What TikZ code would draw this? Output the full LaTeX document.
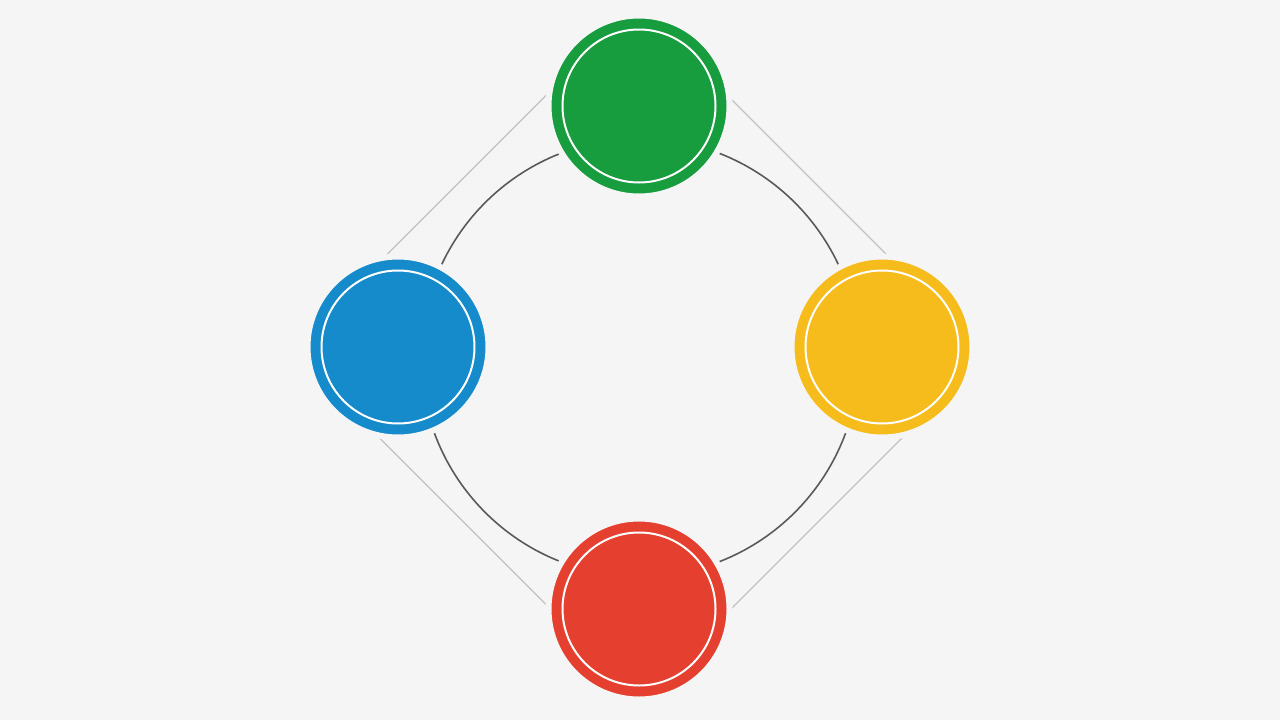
\documentclass[tikz,border=0pt]{standalone}
\usetikzlibrary{calc}
\definecolor{bgc}{HTML}{F5F5F5}
\definecolor{cgreen}{HTML}{179C3E}
\definecolor{cblue}{HTML}{168BCC}
\definecolor{cyellow}{HTML}{F6BC1C}
\definecolor{cred}{HTML}{E5402F}
\definecolor{lightline}{HTML}{C2C2C2}
\definecolor{darkline}{HTML}{5A5A5A}
\pgfdeclarelayer{back}
\pgfsetlayers{back,main}
\tikzset{
  bubble/.style={circle, inner sep=0pt, minimum size=181pt, fill=#1, draw=bgc, line width=6pt},
  ring/.style={draw=white, line width=2pt},
  frame/.style={draw=lightline, line width=1.2pt},
  orbit/.style={draw=darkline, line width=1.6pt}
}
\begin{document}
\begin{tikzpicture}[x=1pt,y=-1pt]
\useasboundingbox (0,0) rectangle (1280,720);
\coordinate (c) at (640,357.5);
\node[bubble=cgreen] (g) at (639,106) {};
\node[bubble=cblue] (b) at (398,347) {};
\node[bubble=cyellow] (y) at (882,347) {};
\node[bubble=cred] (r) at (639,609) {};
\foreach \n in {g,b,y,r} { \draw[ring] (\n) circle (76.5); }
\begin{pgfonlayer}{back}
\fill[bgc] (0,0) rectangle (1280,720);
\draw[orbit] (c) circle (219);
\draw[frame] ($(g)+(-51.75,-51.75)$) -- ($(b)+(-51.75,-51.75)$);
\draw[frame] ($(g)+(49.5,-49.5)$) -- ($(y)+(48.5,-48.5)$);
\draw[frame] ($(b)+(-54.75,54.75)$) -- ($(r)+(-44.25,44.25)$);
\draw[frame] ($(y)+(55.5,55.5)$) -- ($(r)+(46,46)$);
\end{pgfonlayer}
\end{tikzpicture}
\end{document}
